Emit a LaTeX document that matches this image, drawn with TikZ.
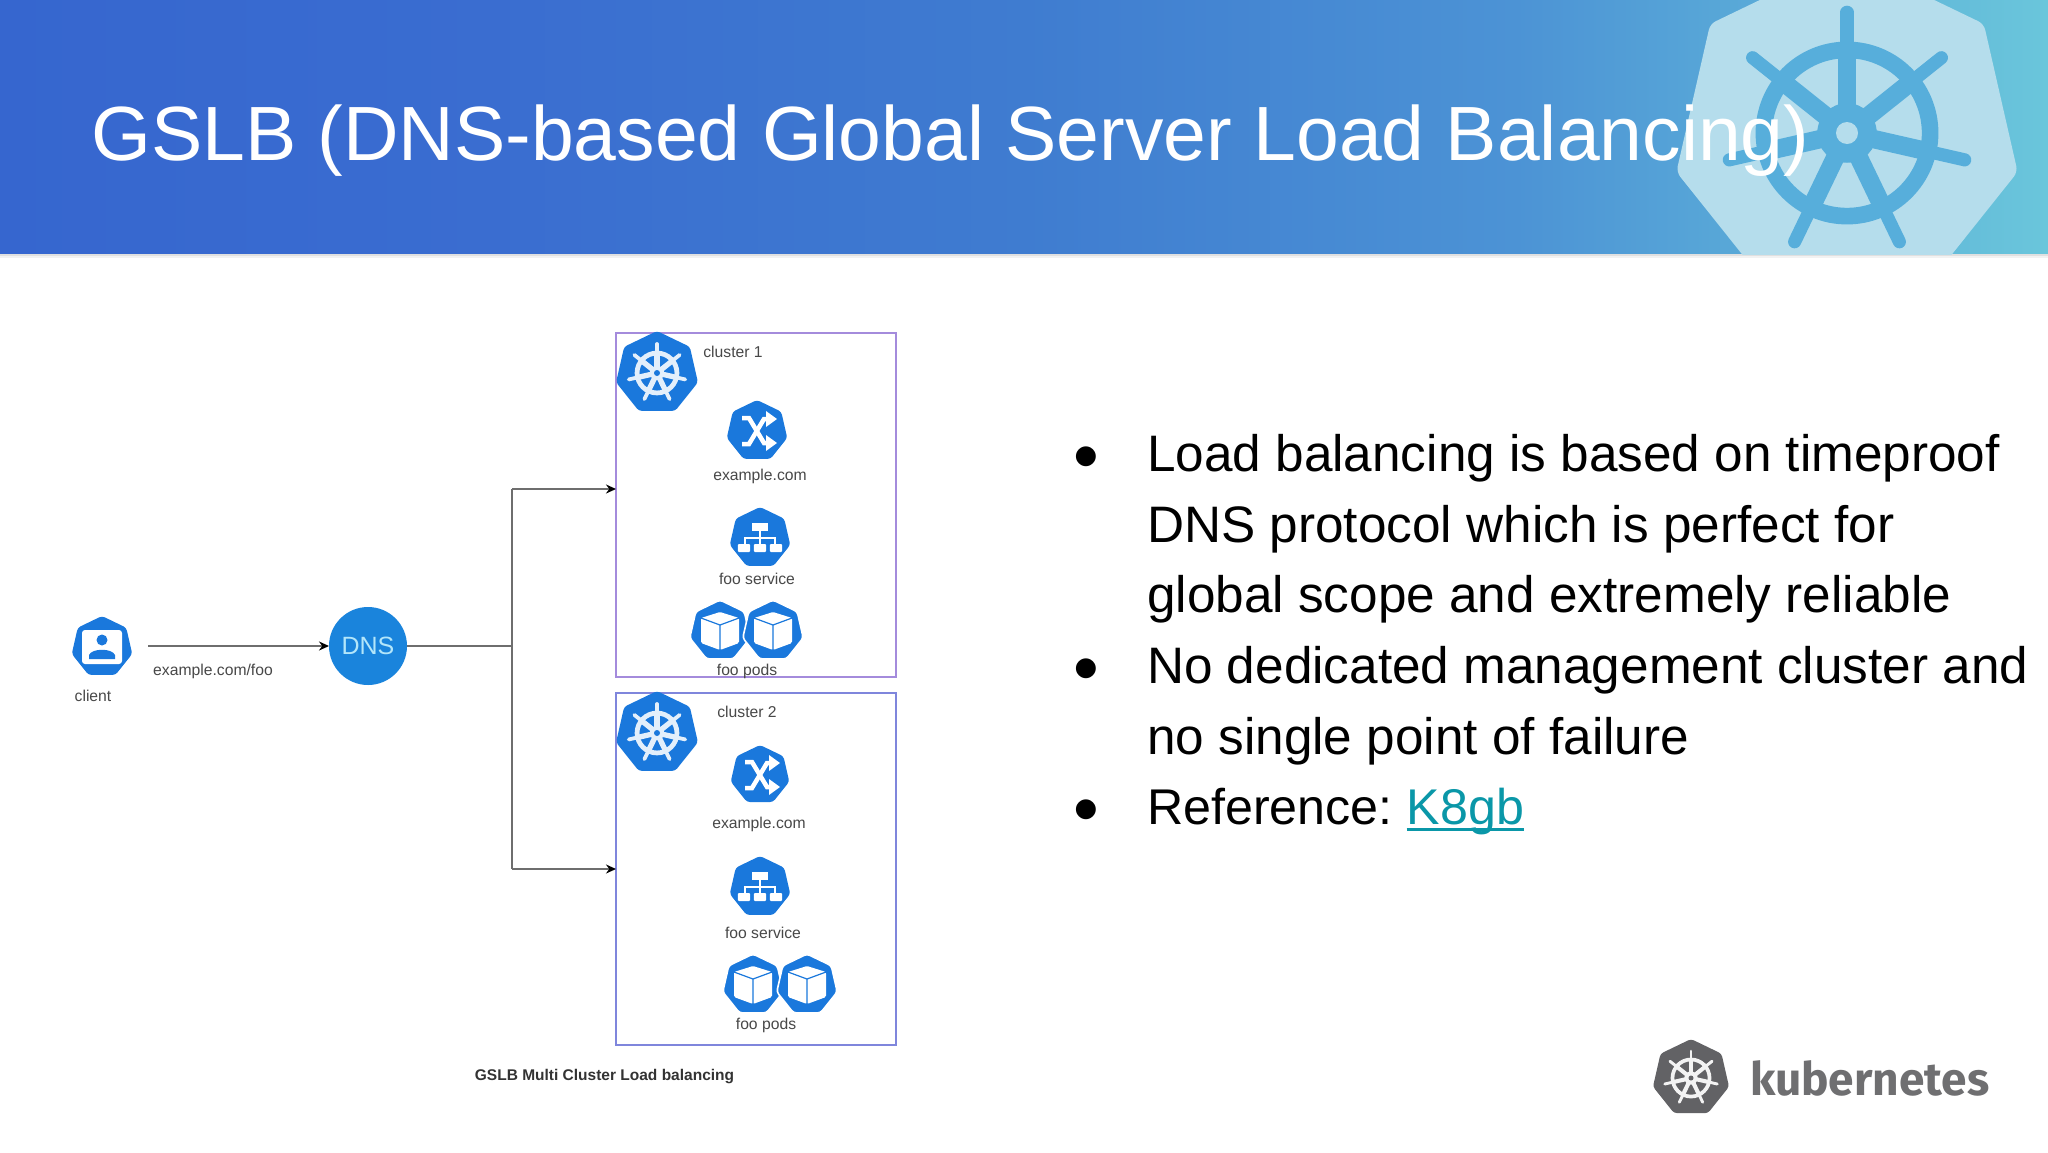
\documentclass[tikz,border=0pt]{standalone}
\usepackage{fontspec}
\setmainfont{Liberation Sans}
\newfontfamily\symfont{DejaVu Sans}
\newfontfamily\logofont{Fira Sans}
\usetikzlibrary{shapes.geometric,arrows.meta}
\frenchspacing
\definecolor{kblue}{HTML}{1A78DC}
\definecolor{dnsblue}{HTML}{1A84DC}
\definecolor{boxa}{HTML}{A48BDC}
\definecolor{boxb}{HTML}{7F86DC}
\definecolor{linecol}{HTML}{6E6E6E}
\definecolor{smalltxt}{HTML}{484848}
\definecolor{linkcol}{HTML}{0A97A8}
\definecolor{logowheel}{HTML}{57AEDB}
\definecolor{logohept}{HTML}{B5DDEC}
\definecolor{logogrey}{HTML}{626265}
\definecolor{hA}{HTML}{3666CF}
\definecolor{hB}{HTML}{3A6DD0}
\definecolor{hC}{HTML}{3F7CD0}
\definecolor{hD}{HTML}{4C93D5}
\definecolor{hE}{HTML}{6AC6DB}
\pgfdeclarehorizontalshading{hdrshade}{100bp}{
  color(0bp)=(hA); color(25bp)=(hA); color(37bp)=(hB); color(50bp)=(hC); color(62bp)=(hD); color(75bp)=(hE); color(100bp)=(hE)}
\tikzset{
  hept/.style={shape=regular polygon,regular polygon sides=7,inner sep=0pt,outer sep=0pt,fill=kblue,rounded corners=3pt},
  podhept/.style={hept,draw=white,line width=1.6pt},
  small/.style={font=\fontsize{15.7}{20}\selectfont,text=smalltxt,inner sep=0pt},
  body/.style={font=\fontsize{51.3}{70.7}\selectfont,text=black,align=left,anchor=north west,inner sep=0pt},
  bullet/.style={font=\symfont\fontsize{26}{26}\selectfont,text=black,inner sep=0pt},
  cluster/.style={draw,line width=1.6pt,fill=none,inner sep=0pt,outer sep=0pt},
  wire/.style={draw=linecol,line width=1.8pt},
  arrowwire/.style={wire,-{Stealth[length=10pt,width=9pt,black]}}
}
\newcommand{\linkul}[1]{\setbox0=\hbox{#1}\rlap{\rule[-6pt]{\wd0}{3pt}}\box0}
% wheel: #1 centre, #2 heptagon radius, #3 colour, #4 stroke factor
\newcommand{\kwheel}[4]{%
  \begin{scope}[shift={(#1)},x=#2pt,y=-#2pt]
    \draw[#3,line width=0.095*#4*#2pt] (0,0) circle[radius=0.475];
    \foreach \k in {0,...,6}{
      \draw[#3,line width=0.105*#4*#2pt] (0,0) -- ({-90+\k*360/7}:0.5);
      \draw[#3,line width=0.075*#4*#2pt,line cap=round] ({-90+\k*360/7}:0.5) -- ({-90+\k*360/7}:0.69);
    }
    \fill[#3] (0,0) circle[radius=0.17];
  \end{scope}}
\newcommand{\kshuffle}[1]{%
  \begin{scope}[shift={(#1)},x=1pt,y=-1pt]
    \draw[white,line width=4.5pt] (-15,-13) -- (-8,-13) -- (7,12) -- (12,12);
    \draw[white,line width=4.5pt] (-15,13) -- (-8,13) -- (7,-12) -- (12,-12);
    \fill[white] (9,-20) -- (20,-12) -- (9,-4) -- cycle;
    \fill[white] (9,20) -- (20,12) -- (9,4) -- cycle;
  \end{scope}}
\newcommand{\ktree}[1]{%
  \begin{scope}[shift={(#1)},x=1pt,y=-1pt]
    \draw[white,line width=1.4pt] (0,-8) -- (0,7) (-15,7) -- (-15,0) -- (15,0) -- (15,7);
    \fill[white] (-8,-15) rectangle (8,-7);
    \foreach \xx in {-16,0,16}{\fill[white,rounded corners=1pt] (\xx-6.2,6) rectangle (\xx+6.2,14);}
  \end{scope}}
\newcommand{\kcube}[1]{%
  \begin{scope}[shift={(#1)},x=1pt,y=-1pt]
    \fill[white,rounded corners=1.5pt] (-19,-13) -- (0,-19) -- (19,-13) -- (19,12) -- (0,19) -- (-19,12) -- cycle;
    \draw[kblue,line width=1.2pt] (-19,-13) -- (0,-6) -- (19,-13) (0,-6) -- (0,19);
  \end{scope}}
\begin{document}
\begin{tikzpicture}[x=1pt,y=-1pt]
  \useasboundingbox (0,0) rectangle (2048,1152);
  \fill[white] (0,0) rectangle (2048,1152);
  % header band
  \shade[shading=hdrshade] (0,0) rectangle (2048,254);
  \fill[black!12] (0,254) rectangle (2048,256);
  \fill[black!5] (0,256) rectangle (2048,258);
  \begin{scope}
    \clip (0,0) rectangle (2048,254);
    \node[hept,fill=logohept,rounded corners=6pt,minimum size=350pt] (toplogo) at (1847,133) {};
    \kwheel{toplogo}{175}{logowheel}{1}
    \fill[logohept] (toplogo) circle[radius=11pt];
  \end{scope}
  \node[anchor=base west,inner sep=0pt,text=white,font=\fontsize{76.9}{80}\selectfont] (title) at (91,160) {GSLB (DNS-based Global Server Load Balancing)};

  % clusters
  \node[cluster,draw=boxa,minimum width=280pt,minimum height=344pt] (c1) at (756,505) {};
  \node[cluster,draw=boxb,minimum width=280pt,minimum height=352pt] (c2) at (756,869) {};

  % cluster 1 contents
  \node[hept,minimum size=84pt] (w1) at (657,373) {};
  \kwheel{w1}{42}{white!88!kblue}{1.2}
  \fill[kblue] (w1) circle[radius=3pt];
  \node[small] (l1) at (733,352) {cluster 1};
  \node[hept,minimum size=62pt] (s1) at (757,431) {};
  \kshuffle{s1}
  \node[small] (e1) at (760,476) {example.com};
  \node[hept,minimum size=62pt] (t1) at (760,538) {};
  \ktree{t1}
  \node[small] (f1) at (757,579) {foo service};
  \node[podhept,minimum size=62pt] (p1a) at (720,631) {};
  \node[podhept,minimum size=62pt] (p1b) at (773,631) {};
  \kcube{p1a}\kcube{p1b}
  \node[small] (g1) at (747,671) {foo pods};

  % cluster 2 contents
  \node[hept,minimum size=84pt] (w2) at (657,733) {};
  \kwheel{w2}{42}{white!88!kblue}{1.2}
  \fill[kblue] (w2) circle[radius=3pt];
  \node[small] (l2) at (747,712) {cluster 2};
  \node[hept,minimum size=60pt] (s2) at (760,775) {};
  \kshuffle{s2}
  \node[small] (e2) at (759,824) {example.com};
  \node[hept,minimum size=62pt] (t2) at (760,887) {};
  \ktree{t2}
  \node[small] (f2) at (763,933) {foo service};
  \node[podhept,minimum size=62pt] (p2a) at (753,985) {};
  \node[podhept,minimum size=62pt] (p2b) at (807,985) {};
  \kcube{p2a}\kcube{p2b}
  \node[small] (g2) at (766,1025) {foo pods};

  \node[small,text=black!80,font=\bfseries\fontsize{15.5}{20}\selectfont] (cap) at (604.5,1077) {GSLB Multi Cluster Load balancing};

  % client and DNS
  \node[hept,minimum size=62pt] (client) at (102,647) {};
  \begin{scope}[shift={(client)},x=1pt,y=-1pt]
    \fill[white,rounded corners=3pt] (-20,-17) rectangle (20,17);
    \fill[kblue] (0,-7) circle[radius=5.5pt];
    \fill[kblue] (-13,12) -- (-13,8) .. controls (-10,1) and (10,1) .. (13,8) -- (13,12) -- cycle;
  \end{scope}
  \node[small] (cl) at (93,696) {client};
  \node[small] (url) at (213,671) {example.com/foo};
  \node[circle,fill=dnsblue,minimum size=78pt,inner sep=0pt,outer sep=0pt,text=white!70!cyan,font=\fontsize{25}{28}\selectfont] (dns) at (368,646) {DNS};

  % connectors
  \coordinate (cs) at (148,646);
  \coordinate (j) at (512,646);
  \coordinate (ju) at (512,489);
  \coordinate (jd) at (512,869);
  \coordinate (c1in) at (616,489);
  \coordinate (c2in) at (616,869);
  \draw[arrowwire] (cs) -- (dns);
  \draw[wire] (dns) -- (j);
  \draw[wire] (ju) -- (jd);
  \draw[arrowwire] (ju) -- (c1in);
  \draw[arrowwire] (jd) -- (c2in);

  % bullet list
  \node[bullet] (b1) at (1086,457) {●};
  \node[bullet] (b2) at (1086,669) {●};
  \node[bullet] (b3) at (1086,810) {●};
  \node[body] (t1x) at (1147,434) {Load balancing is based on timeproof\\DNS protocol which is perfect for\\global scope and extremely reliable};
  \node[body] (t2x) at (1147,646) {No dedicated management cluster and\\no single point of failure};
  \node[body] (t3x) at (1147,788) {\fontsize{50.2}{70.7}\selectfont Reference: \textcolor{linkcol}{\linkul{K8gb}}};

  % kubernetes logo
  \node[hept,fill=logogrey,minimum size=78pt] (klogo) at (1691,1078) {};
  \kwheel{klogo}{39}{white!92!logogrey}{1}
  \fill[logogrey] (klogo) circle[radius=2.5pt];
  \node[inner sep=0pt,anchor=base west,text=logogrey!92!white,font=\logofont\bfseries\fontsize{46}{50}\selectfont] (kname) at (1750,1095) {kubernetes};
\end{tikzpicture}
\end{document}
